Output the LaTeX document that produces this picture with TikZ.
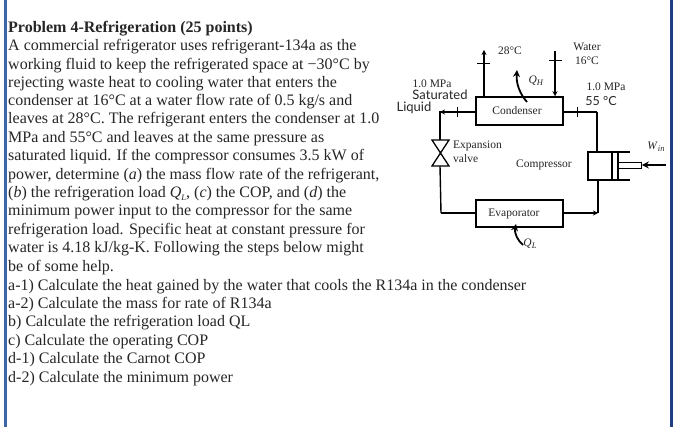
\documentclass[tikz,border=0pt]{standalone}
\usepackage{fontspec}
\setmainfont{Liberation Serif}
\newfontfamily\handfont{Lato}
\usetikzlibrary{arrows.meta}
\definecolor{ink}{HTML}{262626}
\definecolor{barblue}{HTML}{3F64A8}
\definecolor{bardark}{HTML}{1F3F80}
\newcommand{\Sbs}[1]{\raisebox{-0.35ex}{\fontsize{8.5}{9}\selectfont\textit{#1}}}
\tikzset{
  txt/.style={anchor=base west,inner sep=0pt,text=ink,font=\fontsize{16}{18}\selectfont},
  lab/.style={inner sep=0pt,text=ink,font=\fontsize{11.5}{13}\selectfont},
  hand/.style={inner sep=0pt,text=ink,font=\handfont\fontsize{13}{14}\selectfont},
  unitbox/.style={draw=black,line width=1.5pt,minimum width=87pt,inner sep=0pt,font=\fontsize{11.5}{13}\selectfont,text=ink},
  pipe/.style={draw=black,line width=1.4pt},
  flow/.style={pipe,-{Stealth[length=5pt,width=5pt]}},
  heat/.style={draw=black,line width=1.8pt,-{Stealth[length=7pt,width=7pt]}},
  tick/.style={draw=black,line width=0.9pt},
}
\begin{document}
\begin{tikzpicture}[x=1pt,y=-1pt]
\useasboundingbox (0,0) rectangle (675,427);
\fill[white] (0,0) rectangle (675,427);
\fill[barblue] (4,0) rectangle (7,427);
\fill[bardark] (670,0) rectangle (673,427);
% problem text
\node[txt,font=\fontsize{16}{18}\selectfont\bfseries] (l1) at (8,33) {Problem 4-Refrigeration (25 points)};
\node[txt] (l2) at (8,51) {A commercial refrigerator uses refrigerant-134a as the};
\node[txt] (l3) at (8,70) {working fluid to keep the refrigerated space at −30°C by};
\node[txt] (l4) at (8,88) {rejecting waste heat to cooling water that enters the};
\node[txt] (l5) at (8,106) {condenser at 16°C at a water flow rate of 0.5 kg/s and};
\node[txt] (l6) at (8,124) {leaves at 28°C. The refrigerant enters the condenser at 1.0};
\node[txt] (l7) at (8,143) {MPa and 55°C and leaves at the same pressure as};
\node[txt] (l8) at (8,161) {saturated liquid. If the compressor consumes 3.5 kW of};
\node[txt] (l9) at (8,180) {power, determine (\textit{a}) the mass flow rate of the refrigerant,};
\node[txt] (l10) at (8,198) {(\textit{b}) the refrigeration load \textit{Q}\Sbs{L}, (\textit{c}) the COP, and (\textit{d}) the};
\node[txt] (l11) at (8,216) {minimum power input to the compressor for the same};
\node[txt] (l12) at (8,235) {refrigeration load. Specific heat at constant pressure for};
\node[txt] (l13) at (8,253) {water is 4.18 kJ/kg-K. Following the steps below might};
\node[txt] (l14) at (8,272) {be of some help.};
\node[txt] (l15) at (8,291) {a-1) Calculate the heat gained by the water that cools the R134a in the condenser};
\node[txt] (l16) at (8,309) {a-2) Calculate the mass for rate of R134a};
\node[txt] (l17) at (8,327) {b) Calculate the refrigeration load QL};
\node[txt] (l18) at (8,346) {c) Calculate the operating COP};
\node[txt] (l19) at (8,364) {d-1) Calculate the Carnot COP};
\node[txt] (l20) at (8,383) {d-2) Calculate the minimum power};
% components
\node[unitbox,minimum height=28pt] (cond) at (519.5,111) {\hspace*{-5pt}Condenser};
\node[unitbox,minimum height=27pt] (evap) at (519.5,213.5) {\raisebox{1pt}{\hspace*{-11pt}Evaporator}};
\coordinate (liqcorner) at (440,112);
\coordinate (valvetop) at (440,140);
\coordinate (valvebot) at (440,166);
\coordinate (evapcornerL) at (441,213);
\coordinate (evapcornerR) at (598,213);
\coordinate (compbot) at (598,180);
\coordinate (comptop) at (597,152);
\coordinate (discorner) at (597,112);
\coordinate (condR) at (563,112);
\coordinate (condL) at (476,112);
% refrigerant loop
\draw[pipe] (condL) -- (liqcorner) -- (valvetop);
\draw[flow] (condL) -- (liqcorner);
\draw[pipe,line width=1.3pt,line join=miter] (432,140) -- (449,140) -- (432,166) -- (449,166) -- cycle;
\draw[pipe] (valvebot) -- (evapcornerL);
\draw[pipe] (evapcornerL) -- (evap.west |- evapcornerL);
\draw[flow] (evap.east |- evapcornerR) -- (evapcornerR);
\draw[pipe] (evapcornerR) -- (compbot);
\draw[pipe] (comptop) -- (discorner);
\draw[pipe] (condR) -- (discorner);
% compressor
\draw[line width=1.6pt] (630,152) -- (588,152) -- (588,180) -- (630,180);
\draw[line width=1.4pt] (612,152) -- (612,180);
\draw[line width=1.4pt] (618,152) -- (618,180);
\node[draw=black,line width=0.8pt,minimum width=23pt,minimum height=6pt,inner sep=0pt,anchor=west,fill=white] (rod) at (618,165) {};
\coordinate (workin) at (666,165);
\draw[flow,-{Stealth[length=7pt,width=7pt]}] (workin) -- (rod.east);
% water lines
\coordinate (waterin) at (555,51);
\coordinate (waterout) at (484,50);
\draw[flow] (cond.north -| waterout) -- (waterout);
\draw[flow] (waterin) -- (cond.north -| waterin);
% ticks
\draw[tick] (477,63) -- (490,63);
\draw[tick] (549,60) -- (562,60);
\draw[tick] (457,107) -- (457,117);
\draw[tick] (577,107) -- (577,117);
% heat arrows
\coordinate (qhstart) at (527,102);
\coordinate (qhend) at (517,70);
\coordinate (qlstart) at (523,245);
\coordinate (qlend) at (516,224);
\draw[heat] (qhstart) .. controls (520,94) and (516,84) .. (qhend);
\draw[heat] (qlstart) .. controls (518,241) and (514,233) .. (qlend);
% labels
\node[lab] (t28) at (510,51) {28°C};
\node[lab] (twater) at (587,47) {Water};
\node[lab] (t16) at (587,61) {16°C};
\node[lab] (tqh) at (536,81) {\textit{Q}\Sbs{H}};
\node[lab] (tmpa1) at (432,84) {1.0 MPa};
\node[hand] (tsat) at (440,94.5) {Saturated};
\node[hand] (tliq) at (414,107.5) {Liquid};
\node[lab] (tmpa2) at (606,87) {1.0 MPa};
\node[hand,font=\handfont\fontsize{12.5}{13}\selectfont] (t55) at (601,101) {55 °C};
\node[lab,anchor=base west] (texp) at (453,149) {Expansion};
\node[lab,anchor=base west] (tval) at (453,163) {valve};
\node[lab] (tcomp) at (544,165) {Compressor};
\node[lab] (tql) at (530,244) {\textit{Q}\Sbs{L}};
\node[lab] (twin) at (656,147) {\textit{W}\Sbs{in}};
\end{tikzpicture}
\end{document}
